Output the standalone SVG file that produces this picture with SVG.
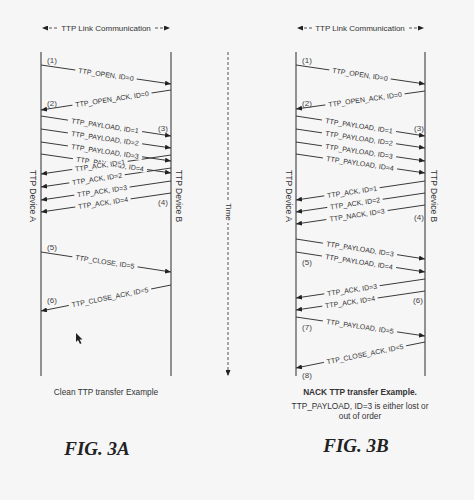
<svg xmlns="http://www.w3.org/2000/svg" width="474" height="500" viewBox="0 0 474 500">
<style>
.bg{fill:#f6f6f6}
.mask{fill:#f6f6f6}
.life{stroke:#5a5a5a;stroke-width:1.3;fill:none}
.msg{stroke:#3a3a3a;stroke-width:1;fill:none;marker-end:url(#ah)}
.dash{stroke:#555;stroke-width:1;stroke-dasharray:3 2;fill:none;marker-end:url(#ah)}
.lbl{font-family:"Liberation Sans",Arial,sans-serif;font-size:7px;fill:#333;text-anchor:middle;dominant-baseline:central}
.num{font-family:"Liberation Sans",Arial,sans-serif;font-size:8px;fill:#444;text-anchor:middle;dominant-baseline:central}
.dev{font-family:"Liberation Sans",Arial,sans-serif;font-size:8.5px;fill:#333;text-anchor:middle;dominant-baseline:central}
.title{font-family:"Liberation Sans",Arial,sans-serif;font-size:8px;fill:#333;text-anchor:middle;dominant-baseline:central}
.cap{font-family:"Liberation Sans",Arial,sans-serif;font-size:8.3px;fill:#333;text-anchor:middle}
.fig{font-family:"Liberation Serif","Times New Roman",serif;font-size:19px;font-weight:bold;font-style:italic;fill:#222;text-anchor:middle}
</style>
<defs>
<marker id="ah" markerUnits="userSpaceOnUse" markerWidth="6" markerHeight="5" refX="6" refY="2.5" orient="auto">
<path d="M0,0 L6,2.5 L0,5 z" fill="#222"/>
</marker>
</defs>
<rect class="bg" x="0" y="0" width="474" height="500"/>

<!-- Left panel (FIG. 3A) -->
<g id="title-a">
<line class="dash" x1="57" y1="28" x2="42" y2="28"/>
<line class="dash" x1="155" y1="28" x2="170" y2="28"/>
<text class="title" x="106" y="28">TTP Link Communication</text>
</g>
<g id="deviceA-left">
<line class="life" x1="41" y1="52" x2="41" y2="376"/>
<text class="dev" transform="translate(33,196) rotate(90)">TTP Device A</text>
</g>
<g id="deviceB-left">
<line class="life" x1="171" y1="52" x2="171" y2="376"/>
<text class="dev" transform="translate(179,196) rotate(90)">TTP Device B</text>
</g>
<g id="time">
<line class="dash" x1="228" y1="52" x2="228" y2="376"/>
<g transform="translate(228.5,212) rotate(90)"><rect class="mask" x="-11" y="-4" width="22" height="8"/><text class="title">Time</text></g>
</g>

<g id="connectors-left">
<line class="msg" x1="41" y1="65" x2="171" y2="84"/>
<line class="msg" x1="171" y1="90" x2="41" y2="110"/>
<line class="msg" x1="41" y1="116" x2="171" y2="136"/>
<line class="msg" x1="41" y1="129" x2="171" y2="148"/>
<line class="msg" x1="41" y1="142" x2="171" y2="161"/>
<line class="msg" x1="41" y1="154" x2="171" y2="173"/>
<line class="msg" x1="171" y1="155" x2="41" y2="174"/>
<line class="msg" x1="171" y1="168" x2="41" y2="187"/>
<line class="msg" x1="171" y1="181" x2="41" y2="200"/>
<line class="msg" x1="171" y1="193" x2="41" y2="212"/>
<line class="msg" x1="41" y1="252" x2="171" y2="272"/>
<line class="msg" x1="171" y1="285" x2="41" y2="311"/>
</g>
<g id="labels-left">
<g transform="translate(106,74.5) rotate(8.3)"><rect class="mask" x="-31" y="-3.5" width="62" height="7"/><text class="lbl">TTP_OPEN, ID=0</text></g>
<g transform="translate(112,99.1) rotate(-8.7)"><rect class="mask" x="-40" y="-3.5" width="80" height="7"/><text class="lbl">TTP_OPEN_ACK, ID=0</text></g>
<g transform="translate(105,125.8) rotate(8.7)"><rect class="mask" x="-37.5" y="-3.5" width="75" height="7"/><text class="lbl">TTP_PAYLOAD, ID=1</text></g>
<g transform="translate(105,138.4) rotate(8.3)"><rect class="mask" x="-37.5" y="-3.5" width="75" height="7"/><text class="lbl">TTP_PAYLOAD, ID=2</text></g>
<g transform="translate(105,151.4) rotate(8.3)"><rect class="mask" x="-37.5" y="-3.5" width="75" height="7"/><text class="lbl">TTP_PAYLOAD, ID=3</text></g>
<g transform="translate(110,164.1) rotate(8.3)"><rect class="mask" x="-37.5" y="-3.5" width="75" height="7"/><text class="lbl">TTP_PAYLOAD, ID=4</text></g>
<g transform="translate(100,165.4) rotate(-8.3)"><rect class="mask" x="-28" y="-3" width="56" height="6"/><text class="lbl">TTP_ACK, ID=1</text></g>
<g transform="translate(97,178.8) rotate(-8.3)"><rect class="mask" x="-28" y="-3.5" width="56" height="7"/><text class="lbl">TTP_ACK, ID=2</text></g>
<g transform="translate(102,191.1) rotate(-8.3)"><rect class="mask" x="-28" y="-3.5" width="56" height="7"/><text class="lbl">TTP_ACK, ID=3</text></g>
<g transform="translate(103,202.9) rotate(-8.3)"><rect class="mask" x="-28" y="-3.5" width="56" height="7"/><text class="lbl">TTP_ACK, ID=4</text></g>
<g transform="translate(105,261.8) rotate(8.7)"><rect class="mask" x="-33" y="-3.5" width="66" height="7"/><text class="lbl">TTP_CLOSE, ID=5</text></g>
<g transform="translate(110,297.2) rotate(-11.3)"><rect class="mask" x="-42" y="-3.5" width="84" height="7"/><text class="lbl">TTP_CLOSE_ACK, ID=5</text></g>
<text class="num" x="52" y="60">(1)</text>
<text class="num" x="52" y="103">(2)</text>
<text class="num" x="163" y="128">(3)</text>
<text class="num" x="163" y="202">(4)</text>
<text class="num" x="52" y="247">(5)</text>
<text class="num" x="52" y="300">(6)</text>
</g>
<path d="M76,333 L76,342 L78,340 L80,344 L81.5,343.3 L79.6,339.5 L82.5,339.5 Z" fill="#222"/>
<text class="cap" x="106" y="395">Clean TTP transfer Example</text>
<text class="fig" x="97" y="455">FIG. 3A</text>

<!-- Right panel (FIG. 3B) -->
<g id="title-b">
<line class="dash" x1="312" y1="28" x2="297" y2="28"/>
<line class="dash" x1="409" y1="28" x2="424" y2="28"/>
<text class="title" x="360" y="28">TTP Link Communication</text>
</g>
<g id="deviceA-right">
<line class="life" x1="296" y1="52" x2="296" y2="376"/>
<text class="dev" transform="translate(289,196) rotate(90)">TTP Device A</text>
</g>
<g id="deviceB-right">
<line class="life" x1="425" y1="52" x2="425" y2="376"/>
<text class="dev" transform="translate(434,196) rotate(90)">TTP Device B</text>
</g>

<g id="connectors-right">
<line class="msg" x1="296" y1="65" x2="425" y2="84"/>
<line class="msg" x1="425" y1="91" x2="296" y2="109"/>
<line class="msg" x1="296" y1="116" x2="425" y2="136"/>
<line class="msg" x1="296" y1="129" x2="425" y2="148"/>
<line class="msg" x1="296" y1="142" x2="425" y2="161"/>
<line class="msg" x1="296" y1="154" x2="425" y2="173"/>
<line class="msg" x1="425" y1="181" x2="296" y2="200"/>
<line class="msg" x1="425" y1="193" x2="296" y2="212"/>
<line class="msg" x1="425" y1="205" x2="296" y2="224"/>
<line class="msg" x1="296" y1="239" x2="425" y2="259"/>
<line class="msg" x1="296" y1="252" x2="425" y2="272"/>
<line class="msg" x1="425" y1="279" x2="296" y2="298"/>
<line class="msg" x1="425" y1="291" x2="296" y2="310"/>
<line class="msg" x1="296" y1="317" x2="425" y2="336"/>
<line class="msg" x1="425" y1="342" x2="296" y2="368"/>
</g>
<g id="labels-right">
<g transform="translate(360,74.4) rotate(8.4)"><rect class="mask" x="-31" y="-3.5" width="62" height="7"/><text class="lbl">TTP_OPEN, ID=0</text></g>
<g transform="translate(365,99.4) rotate(-7.9)"><rect class="mask" x="-40" y="-3.5" width="80" height="7"/><text class="lbl">TTP_OPEN_ACK, ID=0</text></g>
<g transform="translate(359,125.8) rotate(8.8)"><rect class="mask" x="-37.5" y="-3.5" width="75" height="7"/><text class="lbl">TTP_PAYLOAD, ID=1</text></g>
<g transform="translate(359,138.3) rotate(8.4)"><rect class="mask" x="-37.5" y="-3.5" width="75" height="7"/><text class="lbl">TTP_PAYLOAD, ID=2</text></g>
<g transform="translate(359,151.3) rotate(8.4)"><rect class="mask" x="-37.5" y="-3.5" width="75" height="7"/><text class="lbl">TTP_PAYLOAD, ID=3</text></g>
<g transform="translate(360,163.4) rotate(8.4)"><rect class="mask" x="-37.5" y="-3.5" width="75" height="7"/><text class="lbl">TTP_PAYLOAD, ID=4</text></g>
<g transform="translate(352,191.8) rotate(-8.4)"><rect class="mask" x="-28" y="-3.5" width="56" height="7"/><text class="lbl">TTP_ACK, ID=1</text></g>
<g transform="translate(355,203.3) rotate(-8.4)"><rect class="mask" x="-28" y="-3.5" width="56" height="7"/><text class="lbl">TTP_ACK, ID=2</text></g>
<g transform="translate(357,215) rotate(-8.4)"><rect class="mask" x="-31" y="-3.5" width="62" height="7"/><text class="lbl">TTP_NACK, ID=3</text></g>
<g transform="translate(360,248.9) rotate(8.8)"><rect class="mask" x="-37.5" y="-3.5" width="75" height="7"/><text class="lbl">TTP_PAYLOAD, ID=3</text></g>
<g transform="translate(359,261.8) rotate(8.8)"><rect class="mask" x="-37.5" y="-3.5" width="75" height="7"/><text class="lbl">TTP_PAYLOAD, ID=4</text></g>
<g transform="translate(352,289.8) rotate(-8.4)"><rect class="mask" x="-28" y="-3.5" width="56" height="7"/><text class="lbl">TTP_ACK, ID=3</text></g>
<g transform="translate(350,302) rotate(-8.4)"><rect class="mask" x="-28" y="-3.5" width="56" height="7"/><text class="lbl">TTP_ACK, ID=4</text></g>
<g transform="translate(360,326.4) rotate(8.4)"><rect class="mask" x="-37.5" y="-3.5" width="75" height="7"/><text class="lbl">TTP_PAYLOAD, ID=5</text></g>
<g transform="translate(365,354.1) rotate(-11.4)"><rect class="mask" x="-42" y="-3.5" width="84" height="7"/><text class="lbl">TTP_CLOSE_ACK, ID=5</text></g>
<text class="num" x="307" y="60">(1)</text>
<text class="num" x="307" y="103">(2)</text>
<text class="num" x="419" y="128">(3)</text>
<text class="num" x="419" y="217">(4)</text>
<text class="num" x="307" y="262">(5)</text>
<text class="num" x="418" y="300">(6)</text>
<text class="num" x="307" y="327">(7)</text>
<text class="num" x="307" y="375">(8)</text>
</g>
<text class="cap" x="360" y="395" style="font-weight:bold">NACK TTP transfer Example.</text>
<text class="cap" x="360" y="409">TTP_PAYLOAD, ID=3 is either lost or</text>
<text class="cap" x="360" y="419">out of order</text>
<text class="fig" x="356" y="452">FIG. 3B</text>
</svg>
